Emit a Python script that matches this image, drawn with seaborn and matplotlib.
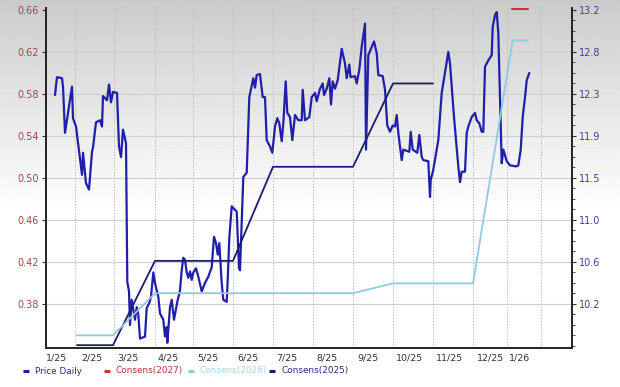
import numpy as np
import pandas as pd
import matplotlib
matplotlib.use("Agg")
import matplotlib.pyplot as plt
import seaborn as sns
from matplotlib.lines import Line2D
from matplotlib.ticker import AutoMinorLocator

# ---------------- data ----------------
# x = chart session offset from the left axis
price_px = [55, 57, 62, 63, 65, 72, 73, 76, 82, 83, 86, 89, 92, 93, 96, 100, 102, 103, 107, 109,
            111, 113, 117, 119, 121, 123, 126, 127.3, 129, 130, 131.7, 135, 136.7, 138.3, 140, 145,
            146.7, 149.3, 151, 153.3, 155, 156.7, 158.3, 160, 163.3, 165, 166.7, 167.3, 170, 171.7,
            174, 177.3, 180, 181.7, 183.3, 185, 186.7, 188.3, 190, 191.7, 193.3, 196, 198.3, 201.7,
            205, 208.3, 211.7, 214, 216, 217.7, 219.3, 221.7, 223.3, 226.7, 227.7, 229.3, 231.7,
            236.7, 239, 240, 243.3, 246.7, 249.3, 253.3, 255, 256.7, 260, 262.7, 265, 266.7, 270,
            272.3, 275, 277.3, 279.3, 281.7, 283.3, 285.7, 287.3, 290, 292.3, 295, 298.3, 301.7,
            302.7, 305, 309.3, 311.7, 315, 316.7, 320, 322.7, 324, 326.7, 329.3, 331, 332.7, 335,
            337.7, 341.7, 345, 346.7, 349.3, 350.5, 355, 356.7, 359.3, 361.7, 365, 366, 368.3, 374,
            376.7, 378.3, 382.7, 385, 387.3, 390, 392.7, 395, 396.7, 398.3, 400, 401.7, 403.3,
            409.3, 410.7, 412.7, 417.3, 419.3, 421.7, 423.3, 428.3, 430, 430.7, 433.3, 438.3,
            441.7, 446.7, 448.3, 450, 454, 458.3, 460, 461.7, 465, 466.7, 468.3, 471.7, 475, 476.7,
            479.3, 481.7, 483.3, 485, 488.3, 491.7, 492.7, 495, 496.7, 498.3, 501.7, 503.3, 506.7,
            510, 516, 518.3, 520.7, 522.7, 525, 526.7, 529.3]
price_daily = [0.579, 0.596, 0.595, 0.587, 0.543, 0.587, 0.557, 0.549, 0.503, 0.524, 0.495, 0.489,
               0.525, 0.529, 0.553, 0.555, 0.549, 0.578, 0.574, 0.589, 0.572, 0.582, 0.581, 0.530,
               0.520, 0.546, 0.533, 0.401, 0.392, 0.360, 0.384, 0.365, 0.377, 0.370, 0.347, 0.349,
               0.376, 0.381, 0.387, 0.410, 0.400, 0.393, 0.387, 0.371, 0.365, 0.349, 0.358, 0.343,
               0.377, 0.384, 0.365, 0.382, 0.393, 0.412, 0.424, 0.422, 0.410, 0.405, 0.411, 0.403,
               0.410, 0.414, 0.406, 0.392, 0.400, 0.406, 0.415, 0.444, 0.438, 0.427, 0.438, 0.400,
               0.384, 0.382, 0.403, 0.443, 0.473, 0.468, 0.414, 0.412, 0.501, 0.505, 0.577, 0.595,
               0.586, 0.598, 0.599, 0.577, 0.577, 0.536, 0.530, 0.524, 0.549, 0.557, 0.552, 0.535,
               0.552, 0.592, 0.562, 0.558, 0.536, 0.560, 0.555, 0.555, 0.584, 0.555, 0.558, 0.577,
               0.581, 0.573, 0.585, 0.590, 0.579, 0.585, 0.595, 0.570, 0.592, 0.585, 0.593, 0.623,
               0.609, 0.595, 0.608, 0.596, 0.597, 0.590, 0.603, 0.625, 0.647, 0.527, 0.617, 0.630,
               0.619, 0.598, 0.597, 0.584, 0.550, 0.544, 0.550, 0.549, 0.560, 0.543, 0.530, 0.517,
               0.527, 0.525, 0.544, 0.527, 0.524, 0.541, 0.520, 0.517, 0.516, 0.482, 0.498, 0.508,
               0.536, 0.581, 0.611, 0.620, 0.609, 0.558, 0.511, 0.496, 0.506, 0.506, 0.543, 0.549,
               0.558, 0.562, 0.555, 0.552, 0.544, 0.544, 0.606, 0.612, 0.617, 0.644, 0.655, 0.658,
               0.638, 0.514, 0.527, 0.516, 0.512, 0.511, 0.512, 0.527, 0.558, 0.577, 0.593, 0.600]
price_t = [round(v - 46, 1) for v in price_px]

c2025_t = [31, 67, 109, 187, 227, 307, 347, 387]
c2025_v = [9.78, 9.78, 10.64, 10.64, 11.60, 11.60, 12.45, 12.45]
c2026_t = [31, 67, 109, 307, 347, 427, 466.7, 481.7]
c2026_v = [9.88, 9.88, 10.31, 10.31, 10.41, 10.41, 12.89, 12.89]
c2027_t = [466, 482]
c2027_v = [13.21, 13.21]

month_labels = ["1/25", "2/25", "3/25", "4/25", "5/25", "6/25", "7/25", "8/25", "9/25",
                "10/25", "11/25", "12/25", "1/26"]
label_t = [11, 46, 82, 122, 162, 202, 241, 281, 322, 364, 404, 445, 474]
grid_t = [29, 68, 109, 147, 187, 227, 267, 307, 347, 387, 427, 461, 495]
left_ticks = [0.38, 0.42, 0.46, 0.50, 0.54, 0.58, 0.62, 0.66]
right_labels = ["10.2", "10.6", "11.0", "11.5", "11.9", "12.3", "12.8", "13.2"]

legend_names = ["Price Daily", "Consens(2027)", "Consens(2026)", "Consens(2025)"]
C_PRICE, C_27, C_26, C_25 = "#1f1fa8", "#cc3333", "#8ecae0", "#1c1c6e"
legend_colors = [C_PRICE, C_27, C_26, C_25]
legend_text_colors = ["#2a2a8a", "#b03a3a", "#a8d4e4", "#2a2a7a"]

# ---------------- figure ----------------
sns.set_theme(style="white")
plt.rcParams["font.family"] = ["DejaVu Sans"]

fig = plt.figure(figsize=(6.2, 3.87), dpi=100)
fig.patch.set_facecolor("white")
bg = fig.add_axes([0, 0, 1, 1], zorder=-10)
bg.axis("off")
yy = np.linspace(0, 1, 400)
shade = np.where(yy < 0.55, 0.79 + (1 - 0.79) * (yy / 0.55) ** 0.9, 1.0)
bg.imshow(np.tile(shade[:, None], (1, 2)), cmap="gray", vmin=0, vmax=1,
          aspect="auto", extent=[0, 1, 0, 1], origin="upper")
bg.set_xlim(0, 1); bg.set_ylim(0, 1)

ax = fig.add_axes([0.0742, 0.1008, 0.8484, 0.8786])
ax.set_facecolor("none")
ax2 = ax.twinx()
ax2.set_facecolor("none")

p_lo, p_hi = 0.3381, 0.6619
ax.set_ylim(p_lo, p_hi)
ax.set_xlim(0, 526)

def to_right(p):
    return 10.2 + (p - 0.38) / 0.04 * (3.0 / 7.0)

ax2.set_ylim(to_right(p_lo), to_right(p_hi))

sns.lineplot(x=price_t, y=price_daily, ax=ax, color=C_PRICE, lw=1.6, sort=False,
             estimator=None, legend=False)
sns.lineplot(x=c2025_t, y=c2025_v, ax=ax2, color=C_25, lw=1.3, sort=False,
             estimator=None, legend=False)
sns.lineplot(x=c2026_t, y=c2026_v, ax=ax2, color=C_26, lw=1.3, sort=False,
             estimator=None, legend=False)
sns.lineplot(x=c2027_t, y=c2027_v, ax=ax2, color=C_27, lw=1.5, sort=False,
             estimator=None, legend=False)

# grid
ax.set_yticks(left_ticks)
ax.set_yticklabels([f"{v:.2f}" for v in left_ticks])
ax.set_xticks(label_t)
ax.set_xticklabels(month_labels)
ax.set_xticks(grid_t, minor=True)
ax.grid(False)
ax.grid(which="major", axis="y", color="#cfcfcf", lw=0.8)
ax.grid(which="minor", axis="x", color="#bdbdbd", lw=0.7, linestyle=(0, (1.5, 1.5)))

ax.tick_params(axis="y", which="major", direction="out", length=3, width=0.8,
               color="#333333", labelsize=7, labelcolor="#a04848", pad=2, left=True)
ax.tick_params(axis="x", which="both", length=0, labelsize=6.8, labelcolor="#333333", pad=4)

ax2.set_yticks([to_right(v) for v in left_ticks])
ax2.set_yticklabels(right_labels)
ax2.yaxis.set_minor_locator(AutoMinorLocator(4))
ax2.grid(False)
ax2.tick_params(axis="y", which="major", direction="out", length=3, width=0.8,
                color="#333333", labelsize=7, labelcolor="#404098", pad=2, right=True)
ax2.tick_params(axis="y", which="minor", direction="out", length=2, width=0.6,
                color="#333333", right=True)

for a in (ax, ax2):
    for s in a.spines.values():
        s.set_visible(False)
ax.spines["left"].set_visible(True)
ax.spines["bottom"].set_visible(True)
ax2.spines["right"].set_visible(True)
for s in (ax.spines["left"], ax.spines["bottom"], ax2.spines["right"]):
    s.set_color("#222222")
    s.set_linewidth(1.4)

# legend (bottom, manual)
leg_x = [23, 104, 188, 269]
ly = (387 - 371) / 387
for x0, name, col, tcol in zip(leg_x, legend_names, legend_colors, legend_text_colors):
    fig.add_artist(Line2D([(x0) / 620, (x0 + 6) / 620], [ly, ly], transform=fig.transFigure,
                          color=col, lw=2.2, solid_capstyle="butt"))
    fig.text((x0 + 12) / 620, ly, name, color=tcol, fontsize=6.4, va="center", ha="left")

fig.savefig("out.png", dpi=100)
